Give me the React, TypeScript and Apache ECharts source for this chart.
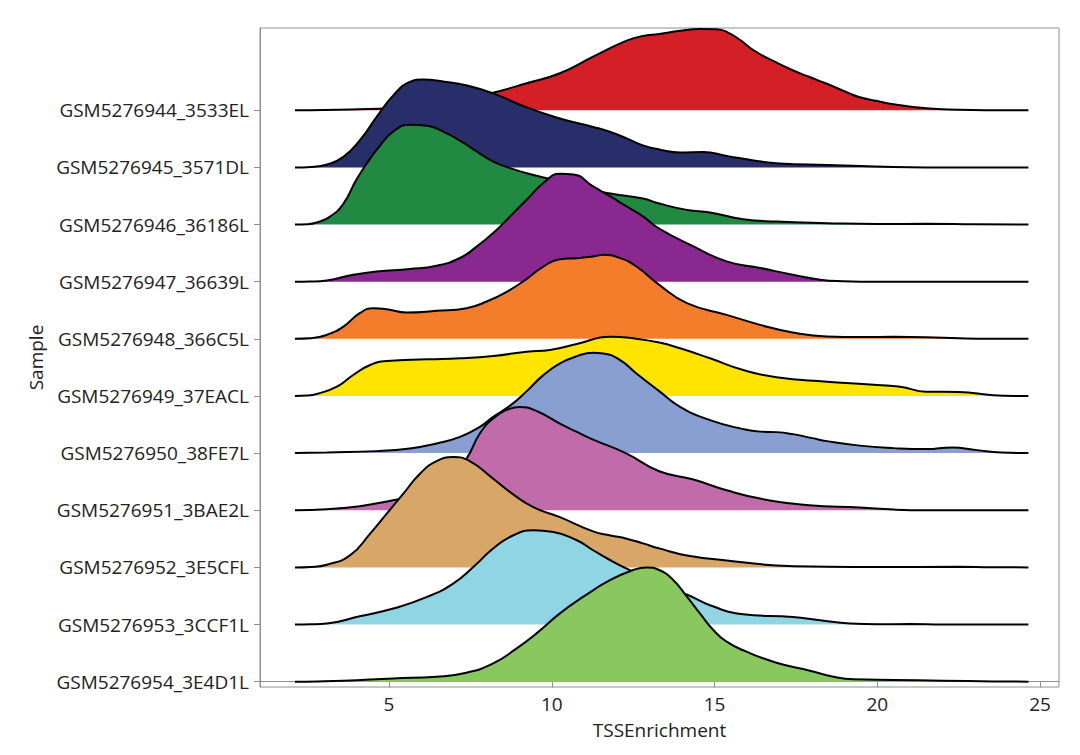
import React, { useEffect, useRef } from "react";
import * as echarts from "echarts";

// Samples listed top (back) to bottom (front)
const samples = [
  "GSM5276944_3533EL",
  "GSM5276945_3571DL",
  "GSM5276946_36186L",
  "GSM5276947_36639L",
  "GSM5276948_366C5L",
  "GSM5276949_37EACL",
  "GSM5276950_38FE7L",
  "GSM5276951_3BAE2L",
  "GSM5276952_3E5CFL",
  "GSM5276953_3CCF1L",
  "GSM5276954_3E4D1L",
];

const colors = [
  "#D51F26", "#272E6A", "#208A42", "#89288F", "#F47D2B", "#FEE500",
  "#8A9FD1", "#C06CAB", "#D8A767", "#90D5E4", "#89C75F",
];

const xTicks = [5, 10, 15, 20, 25];

// [TSSEnrichment, density]
const d3533EL = [[2.11,0],[3.0,0.0002],[4.1,0.001],[5.0,0.002],[6.0,0.004],[7.0,0.009],[8.2,0.0176],[9.23,0.027],[10.25,0.037],[11.27,0.0536],[12.3,0.0696],[12.8,0.0743],[13.3,0.0763],[13.94,0.0796],[14.55,0.0813],[15.07,0.081],[15.4,0.078],[15.8,0.07],[16.2,0.06],[16.7,0.051],[17.4,0.04],[17.9,0.0335],[18.45,0.0265],[19.06,0.018],[19.46,0.013],[20.0,0.0093],[20.5,0.006],[21.5,0.002],[22.5,0.0006],[23.5,0.0001],[24.64,0]];
const d3571DL = [[2.11,0],[2.6,0.0005],[3.1,0.003],[3.6,0.0105],[4.1,0.027],[4.62,0.0505],[5.13,0.072],[5.64,0.0855],[6.05,0.088],[6.66,0.086],[7.4,0.082],[8.2,0.074],[9.23,0.06],[10.25,0.049],[11.27,0.0405],[11.8,0.0355],[12.3,0.029],[12.8,0.022],[13.3,0.018],[13.94,0.015],[14.65,0.0155],[15.37,0.0115],[16.2,0.007],[17.0,0.004],[18.45,0.0025],[19.5,0.0015],[20.5,0.0003],[21.5,0],[24.64,0]];
const d36186L = [[2.11,0],[2.5,0.0003],[2.78,0.002],[3.19,0.008],[3.6,0.021],[4.0,0.045],[4.42,0.066],[4.62,0.0747],[5.13,0.093],[5.64,0.0997],[6.17,0.0987],[6.66,0.093],[7.18,0.084],[7.7,0.073],[8.2,0.063],[8.72,0.0564],[9.23,0.0514],[10.25,0.043],[11.0,0.036],[11.8,0.031],[12.8,0.026],[13.3,0.021],[14.15,0.0147],[14.86,0.012],[15.88,0.0054],[16.9,0.003],[18.45,0.0014],[20.0,0.0005],[21.5,0.0007],[23.0,0.0003],[24.64,0]];
const d36639L = [[2.11,0],[2.57,0.0002],[3.09,0.0013],[3.9,0.007],[4.62,0.0103],[5.64,0.0127],[6.46,0.016],[7.18,0.0237],[7.7,0.0353],[8.2,0.0487],[8.72,0.0653],[9.23,0.082],[9.74,0.0987],[10.25,0.108],[10.66,0.1073],[11.27,0.0953],[11.8,0.0853],[12.3,0.0753],[12.8,0.0653],[13.3,0.053],[14.35,0.0353],[15.37,0.0203],[16.4,0.0137],[17.4,0.007],[18.24,0.002],[18.95,0.0005],[20.0,0],[24.64,0]];
const d366C5L = [[2.11,0],[2.6,0.0005],[3.09,0.004],[3.6,0.0123],[4.1,0.0257],[4.52,0.0307],[4.93,0.0297],[5.54,0.0263],[6.46,0.028],[7.38,0.0307],[8.0,0.0373],[8.72,0.049],[9.23,0.06],[9.74,0.0723],[10.25,0.0797],[10.77,0.0807],[11.27,0.0823],[11.58,0.084],[12.1,0.0807],[12.6,0.0723],[13.3,0.054],[14.15,0.0357],[15.37,0.024],[16.4,0.014],[17.4,0.0063],[18.45,0.0023],[19.5,0.0018],[20.5,0.002],[21.5,0.0017],[22.5,0.0005],[23.5,0],[24.64,0]];
const d37EACL = [[2.11,0],[2.5,0.0004],[2.78,0.002],[3.4,0.0093],[3.9,0.021],[4.42,0.031],[4.93,0.035],[6.17,0.0367],[7.18,0.0377],[8.2,0.04],[9.23,0.0443],[9.94,0.046],[10.77,0.052],[11.8,0.0593],[12.5,0.0577],[13.3,0.0535],[13.94,0.0477],[14.86,0.0377],[15.88,0.026],[16.9,0.0187],[18.45,0.0143],[20.0,0.011],[20.7,0.0093],[21.5,0.0043],[22.5,0.004],[23.56,0.0007],[24.2,0],[24.64,0]];
const d38FE7L = [[2.11,0],[3.09,0.0007],[4.62,0.002],[5.64,0.0047],[6.46,0.0097],[7.18,0.0163],[7.79,0.0263],[8.2,0.0363],[8.72,0.0475],[9.23,0.062],[9.74,0.078],[10.25,0.0897],[10.77,0.097],[11.27,0.1003],[11.58,0.0997],[12.1,0.093],[12.6,0.0797],[13.3,0.062],[13.94,0.0463],[14.86,0.033],[15.88,0.024],[16.4,0.0215],[16.9,0.021],[17.4,0.019],[18.0,0.015],[18.45,0.012],[19.46,0.0075],[20.5,0.005],[21.5,0.004],[22.3,0.0057],[23.06,0.003],[23.8,0.0007],[24.64,0]];
const d3BAE2L = [[2.11,0],[3.09,0.001],[4.1,0.004],[5.13,0.01],[5.6,0.013],[6.2,0.019],[6.8,0.03],[7.38,0.0517],[7.79,0.0767],[8.2,0.0917],[8.72,0.1017],[9.0,0.1033],[9.53,0.0993],[10.25,0.0867],[10.77,0.0783],[11.27,0.0707],[12.3,0.0567],[13.3,0.039],[14.35,0.0307],[15.37,0.02],[16.4,0.0117],[17.9,0.005],[19.46,0.0027],[20.5,0.0007],[21.5,0],[24.64,0]];
const d3E5CFL = [[2.11,0],[2.6,0.0005],[3.09,0.0027],[3.8,0.012],[4.42,0.0337],[4.93,0.0537],[5.44,0.0737],[5.95,0.0937],[6.46,0.1063],[6.97,0.1103],[7.48,0.1063],[8.2,0.0887],[8.72,0.0753],[9.43,0.0603],[10.25,0.0503],[11.27,0.036],[11.8,0.032],[12.3,0.0287],[12.8,0.024],[13.3,0.019],[14.15,0.012],[15.37,0.007],[16.9,0.002],[18.45,0.0007],[20.0,0.0003],[22.5,0.0007],[23.5,0.0002],[24.64,0]];
const d3CCF1L = [[2.11,0],[2.6,0.0002],[3.09,0.001],[4.1,0.0083],[5.13,0.016],[6.17,0.0276],[6.97,0.041],[7.59,0.0576],[8.2,0.076],[8.82,0.0893],[9.43,0.0943],[10.05,0.0926],[10.77,0.0843],[11.27,0.0743],[11.8,0.0643],[12.3,0.056],[12.8,0.049],[13.3,0.042],[13.8,0.034],[14.2,0.0293],[14.86,0.0193],[15.88,0.0103],[17.4,0.0076],[18.24,0.0043],[19.16,0.001],[20.0,0.0003],[21.0,0.0005],[22.0,0],[24.64,0]];
const d3E4D1L = [[2.11,0],[2.8,0.0003],[3.6,0.001],[5.13,0.0033],[6.46,0.005],[7.38,0.009],[8.2,0.0183],[8.92,0.0333],[9.53,0.0483],[10.25,0.0683],[10.97,0.085],[11.8,0.1017],[12.5,0.1117],[12.91,0.1143],[13.3,0.1117],[13.73,0.1017],[14.15,0.085],[14.55,0.0683],[14.96,0.0517],[15.37,0.04],[15.98,0.03],[16.9,0.019],[17.93,0.011],[18.65,0.005],[19.26,0.0024],[20.5,0.0017],[22.0,0.001],[23.56,0.0003],[24.64,0]];

const densities = [
  d3533EL, d3571DL, d36186L, d36639L, d366C5L, d37EACL,
  d38FE7L, d3BAE2L, d3E5CFL, d3CCF1L, d3E4D1L,
];

const RIDGE_SCALE = 17.5;
const FONT = "'Open Sans', 'Noto Sans', sans-serif";

export default function App() {
  const ref = useRef<HTMLDivElement>(null);

  useEffect(() => {
    if (!ref.current) return;
    const chart = echarts.init(ref.current, null, { renderer: "svg" });
    const n = samples.length;
    const yTickValues = samples.map((_, i) => i);

    const series = samples.map((name, i) => {
      const base = n - 1 - i;
      return {
        type: "line",
        name,
        data: densities[i].map(([x, d]) => [x, base + d * RIDGE_SCALE]),
        smooth: 0.5,
        symbol: "none",
        silent: true,
        z: 2 + i,
        lineStyle: { color: "#000000", width: 2 },
        areaStyle: { color: colors[i], opacity: 1, origin: base },
      };
    });

    chart.setOption({
      animation: false,
      grid: {
        left: 260,
        right: 21,
        top: 28,
        bottom: 68,
        show: true,
        borderColor: "#8f8f8f",
        borderWidth: 1,
        backgroundColor: "transparent",
      },
      xAxis: {
        type: "value",
        min: 1.037,
        max: 25.58,
        name: "TSSEnrichment",
        nameLocation: "middle",
        nameGap: 33,
        nameTextStyle: { fontFamily: FONT, fontSize: 19, color: "#222" },
        axisLine: { show: true, lineStyle: { color: "#8f8f8f", width: 1 } },
        axisTick: {
          show: true,
          length: 6,
          customValues: xTicks,
          lineStyle: { color: "#8f8f8f", width: 1 },
        },
        axisLabel: {
          customValues: xTicks,
          fontFamily: FONT,
          fontSize: 19,
          color: "#222",
          margin: 7,
        },
        splitLine: { show: false },
      },
      yAxis: {
        type: "value",
        min: -0.093,
        max: 11.44,
        name: "Sample",
        nameLocation: "middle",
        nameGap: 205,
        nameRotate: 90,
        nameTextStyle: { fontFamily: FONT, fontSize: 19, color: "#222" },
        axisLine: { show: true, lineStyle: { color: "#8f8f8f", width: 1 } },
        axisTick: {
          show: true,
          length: 6,
          customValues: yTickValues,
          lineStyle: { color: "#8f8f8f", width: 1 },
        },
        axisLabel: {
          customValues: yTickValues,
          fontFamily: FONT,
          fontSize: 19,
          color: "#222",
          margin: 11,
          formatter: (v: number) => samples[n - 1 - Math.round(v)] ?? "",
        },
        splitLine: { show: false },
      },
      series,
    });

    return () => chart.dispose();
  }, []);

  return (
    <div
      ref={ref}
      style={{ position: "absolute", left: 0, top: 0, width: 1080, height: 755, background: "#fff" }}
    />
  );
}
